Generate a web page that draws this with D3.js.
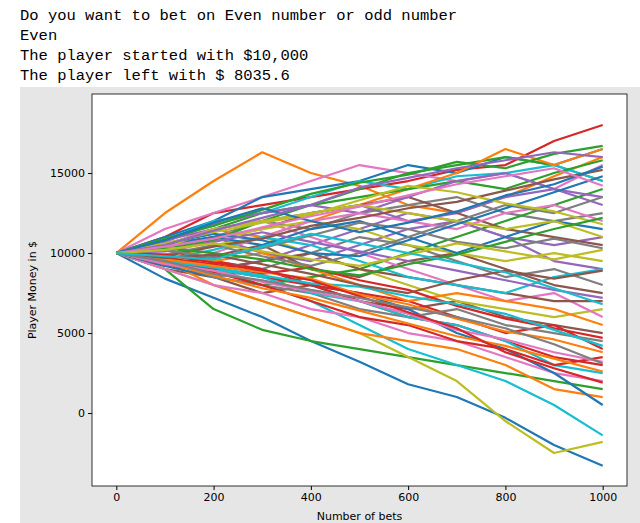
<!DOCTYPE html>
<html><head><meta charset="utf-8">
<script src="https://cdn.jsdelivr.net/npm/d3@7"></script>
<style>body{margin:0;background:#fff}svg{display:block}</style>
</head><body>
<script>
"use strict";
var headerLines = ["Do you want to bet on Even number or odd number", "Even",
  "The player started with $10,000", "The player left with $ 8035.6"];
var betSteps = [0,100,200,300,400,500,600,700,800,900,1000];
var xTicks = [0,200,400,600,800,1000];
var yTicks = [0,5000,10000,15000];
var colors = ["#1f77b4","#ff7f0e","#2ca02c","#d62728","#9467bd","#8c564b","#e377c2","#7f7f7f","#bcbd22","#17becf"];
var series = [
[10000,8400,7200,6000,4500,3200,1800,1000,-300,-2000,-3300],
[10000,12500,14500,16300,15000,14200,13000,12500,13500,14800,16000],
[10000,9000,6500,5200,4500,4000,3500,3000,2500,2000,1500],
[10000,11000,12500,13000,13500,14000,14500,15200,15500,17000,18000],
[10000,10500,11000,10000,9500,10500,11500,12000,11000,10500,11000],
[10000,9000,8500,7500,8000,7000,6500,7000,6000,5500,5000],
[10000,11500,12500,13500,14500,15500,15000,14500,15000,14000,15500],
[10000,10500,9500,9000,10000,11000,10500,9500,8500,9000,8000],
[10000,9000,8000,7000,6000,5000,3500,2000,-500,-2500,-1800],
[10000,9500,8500,8000,7000,5500,4000,3000,2000,500,-1400],
[10000,11000,12000,13500,14000,14500,15500,15000,16000,15500,16500],
[10000,9500,8000,7000,6000,5000,4500,4000,3000,1500,1000],
[10000,10500,11500,12500,13000,14000,15000,15500,16000,15500,14500],
[10000,9500,9000,8500,8000,7000,6000,5500,4500,3500,3000],
[10000,10800,11500,12000,12500,13000,12000,12500,13500,14000,13000],
[10000,9200,9800,10500,9000,8500,9500,10000,9000,8000,7500],
[10000,9000,8000,7500,6500,6000,5000,4500,3500,2500,2000],
[10000,10500,11000,12000,11500,12500,13000,13500,12500,12000,12500],
[10000,9500,10500,11000,10000,9000,8000,7000,6500,6000,6500],
[10000,10800,12000,12500,13500,14500,14000,14800,15000,15500,14500],
[10000,9200,8500,9000,8000,7500,6500,5000,4000,2500,500],
[10000,10500,11500,11000,12000,13000,14000,15000,16500,15500,16500],
[10000,9800,9000,8000,8500,9000,10000,11000,12000,13000,14000],
[10000,10200,9500,9000,8000,7500,7000,6000,5000,5500,4000],
[10000,9500,9000,9500,10500,11500,12500,12000,11000,9500,9000],
[10000,10500,11000,11500,12500,13000,13500,12500,11500,11000,10500],
[10000,10500,11500,12000,11000,10000,9000,8000,7000,7500,6000],
[10000,9500,8500,8000,7500,6500,6000,6500,5500,5000,4500],
[10000,10200,10800,11500,12000,11500,10500,10000,9500,10000,9500],
[10000,9700,9000,8500,7500,7000,6000,5500,4500,3000,2500],
[10000,10500,11000,10500,11500,12000,11000,10000,11000,12000,11500],
[10000,9800,9500,10000,9000,8000,7000,7500,7000,6500,5500],
[10000,10300,10800,12000,13000,13500,14000,14500,14000,15000,15800],
[10000,9300,8800,8000,7000,6000,5500,4500,4000,3000,3500],
[10000,10700,11800,12500,13000,12500,13500,14500,15000,14000,13500],
[10000,9600,9000,9500,10000,9000,8500,8000,7500,7000,7000],
[10000,10400,10000,11000,12000,12500,12000,11500,12500,13000,12000],
[10000,9900,10500,9800,9200,10000,11000,12000,13000,12500,13500],
[10000,10300,11500,12000,12500,13000,12500,12000,11500,12000,11000],
[10000,9600,10200,11000,10500,9500,8500,8000,7500,8500,9000],
[10000,10600,11200,10800,10000,9800,10800,11800,12800,13800,14800],
[10000,9400,8600,7800,7200,6400,5600,4800,4200,3400,2600],
[10000,10900,11700,12700,13700,14400,14900,15700,15300,16200,16700],
[10000,9700,9300,8700,9100,8300,7700,6700,5900,5300,4700],
[10000,10100,10700,11300,10700,10100,9500,8900,8300,7700,7200],
[10000,9800,10400,10900,11700,12200,12800,13200,13900,14600,15200],
[10000,9300,8900,8200,7600,7000,6200,5200,4600,3800,3200],
[10000,10200,9700,10300,11100,11900,11500,10700,10300,10900,10300],
[10000,10600,11300,11900,12400,13300,14200,13800,13100,12600,11800],
[10000,9500,9100,8600,8100,7900,7300,6800,6200,5200,4200],
[10000,10800,11900,12800,12000,11300,11900,12600,13600,14300,15400],
[10000,9600,9200,8800,8400,7400,6800,5900,5100,4600,3800],
[10000,10300,10000,9600,9000,8600,9300,9900,10700,11500,12200],
[10000,9900,9400,8900,8300,7300,6300,5300,3800,2800,1900],
[10000,10500,11400,12200,13000,14100,14700,15300,15800,16300,16000],
[10000,9700,9900,9300,8700,8000,7500,8300,8900,8400,8900],
[10000,10400,10900,11600,12300,12900,13600,14300,14800,15300,14200],
[10000,9500,8700,8300,7700,7200,6600,6000,5300,4300,3100],
[10000,10200,10600,10100,9600,9200,9900,10600,10100,9600,10200],
[10000,9800,9600,10400,11200,10600,10000,9400,8800,7800,6800]
];

var svg = d3.select("body").append("svg").attr("width",640).attr("height",523);
svg.selectAll("text.hdr").data(headerLines).enter().append("text")
  .attr("x",20).attr("y",function(d,i){return 20+i*20;})
  .style("font-family","'Liberation Mono', monospace").style("font-size","15.5px")
  .text(function(d){return d;});
svg.append("rect").attr("x",20).attr("y",87).attr("width",620).attr("height",436).attr("fill","#e6e6e6");
var L=92,T=94,R=627,B=486;
svg.append("rect").attr("x",L).attr("y",T).attr("width",R-L).attr("height",B-T).attr("fill","#fff");
var x = d3.scaleLinear().domain([-50,1050]).range([L,R]);
var y = d3.scaleLinear().domain([-4560,19940]).range([B,T]);
svg.append("clipPath").attr("id","clip").append("rect").attr("x",L).attr("y",T).attr("width",R-L).attr("height",B-T);
var line = d3.line().x(function(d,i){return x(betSteps[i]);}).y(function(d){return y(d);});
svg.append("g").attr("clip-path","url(#clip)").selectAll("path").data(series).enter().append("path")
  .attr("d",line).attr("fill","none").attr("stroke-width",2.2).attr("stroke-linejoin","round")
  .attr("stroke",function(d,i){return colors[i%10];});
svg.append("g").attr("transform","translate(0,"+B+")").call(d3.axisBottom(x).tickValues(xTicks).tickSize(4).tickFormat(d3.format("d")))
  .call(function(g){g.select(".domain").remove();g.selectAll("text").style("font-family","'DejaVu Sans'").style("font-size","11px");});
svg.append("g").attr("transform","translate("+L+",0)").call(d3.axisLeft(y).tickValues(yTicks).tickSize(4).tickFormat(d3.format("d")))
  .call(function(g){g.select(".domain").remove();g.selectAll("text").style("font-family","'DejaVu Sans'").style("font-size","11px");});
svg.append("rect").attr("x",L).attr("y",T).attr("width",R-L).attr("height",B-T).attr("fill","none").attr("stroke","#000").attr("stroke-width",0.8);
svg.append("text").attr("x",(L+R)/2).attr("y",520).attr("text-anchor","middle")
  .style("font-family","'DejaVu Sans'").style("font-size","11px").text("Number of bets");
svg.append("text").attr("transform","translate(36,"+((T+B)/2)+") rotate(-90)").attr("text-anchor","middle")
  .style("font-family","'DejaVu Sans'").style("font-size","11px").text("Player Money in $");
</script>
</body></html>
